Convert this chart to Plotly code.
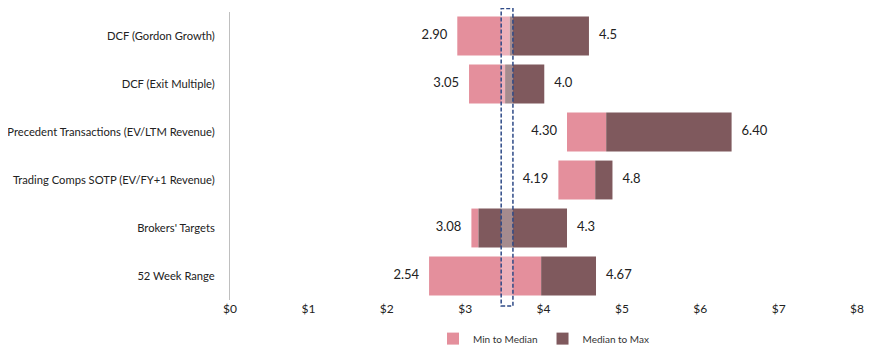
import plotly.graph_objects as go

categories = [
    "DCF (Gordon Growth)",
    "DCF (Exit Multiple)",
    "Precedent Transactions (EV/LTM Revenue)",
    "Trading Comps SOTP (EV/FY+1 Revenue)",
    "Brokers' Targets",
    "52 Week Range",
]
min_vals = [2.90, 3.05, 4.30, 4.19, 3.08, 2.54]
median_vals = [3.57, 3.51, 4.80, 4.66, 3.17, 3.97]
max_vals = [4.58, 4.01, 6.40, 4.88, 4.30, 4.67]
min_labels = ["2.90", "3.05", "4.30", "4.19", "3.08", "2.54"]
max_labels = ["4.5", "4.0", "6.40", "4.8", "4.3", "4.67"]
price_band = [3.46, 3.61]
x_ticks = [0, 1, 2, 3, 4, 5, 6, 7, 8]
x_tick_labels = ["$" + str(v) for v in x_ticks]
x_range = [0, 8]

PINK = "#E48F9C"
DARK = "#7F595D"
FONT = "Lato"

fig = go.Figure()
fig.add_trace(go.Bar(
    y=categories, x=[m - n for m, n in zip(median_vals, min_vals)], base=min_vals,
    orientation="h", name="Min to Median", marker=dict(color=PINK, line=dict(width=0)),
))
fig.add_trace(go.Bar(
    y=categories, x=[m - n for m, n in zip(max_vals, median_vals)], base=median_vals,
    orientation="h", name="Median to Max", marker=dict(color=DARK, line=dict(width=0)),
))
fig.add_trace(go.Scatter(
    y=categories, x=min_vals, mode="text", text=[t + "   " for t in min_labels],
    textposition="middle left", showlegend=False, hoverinfo="skip",
    textfont=dict(family=FONT, size=13, color="#222222"),
))
fig.add_trace(go.Scatter(
    y=categories, x=max_vals, mode="text", text=["   " + t for t in max_labels],
    textposition="middle right", showlegend=False, hoverinfo="skip",
    textfont=dict(family=FONT, size=13, color="#222222"),
))

span = x_range[1] - x_range[0]
fig.add_shape(
    type="rect", xref="paper", yref="paper",
    x0=(price_band[0] - x_range[0]) / span, x1=(price_band[1] - x_range[0]) / span,
    y0=-0.021, y1=1.012,
    line=dict(color="#2E4A87", width=1.5, dash="4px,2px"),
    fillcolor="rgba(255,255,255,0.3)", layer="above",
)

fig.update_layout(
    width=868, height=348,
    margin=dict(l=222, r=19, t=4, b=56, autoexpand=False),
    barmode="overlay", bargap=0.19,
    plot_bgcolor="white", paper_bgcolor="white",
    font=dict(family=FONT, size=12, color="#222222"),
    legend=dict(orientation="h", x=0.5, xanchor="center", xref="paper",
                y=0.05, yanchor="middle", yref="container",
                font=dict(size=10, family=FONT, color="#333333"),
                itemwidth=30, tracegroupgap=0),
    xaxis=dict(range=x_range, tickvals=x_ticks, ticktext=x_tick_labels, showgrid=False,
               zeroline=False, showline=False, ticks="", tickfont=dict(size=12),
               automargin=False),
    yaxis=dict(autorange="reversed", showgrid=False, showline=True,
               linecolor="#BFBFBF", linewidth=1, ticks="", ticklabelstandoff=12,
               tickfont=dict(size=11.2), automargin=False),
)

fig.write_html("out.html")
